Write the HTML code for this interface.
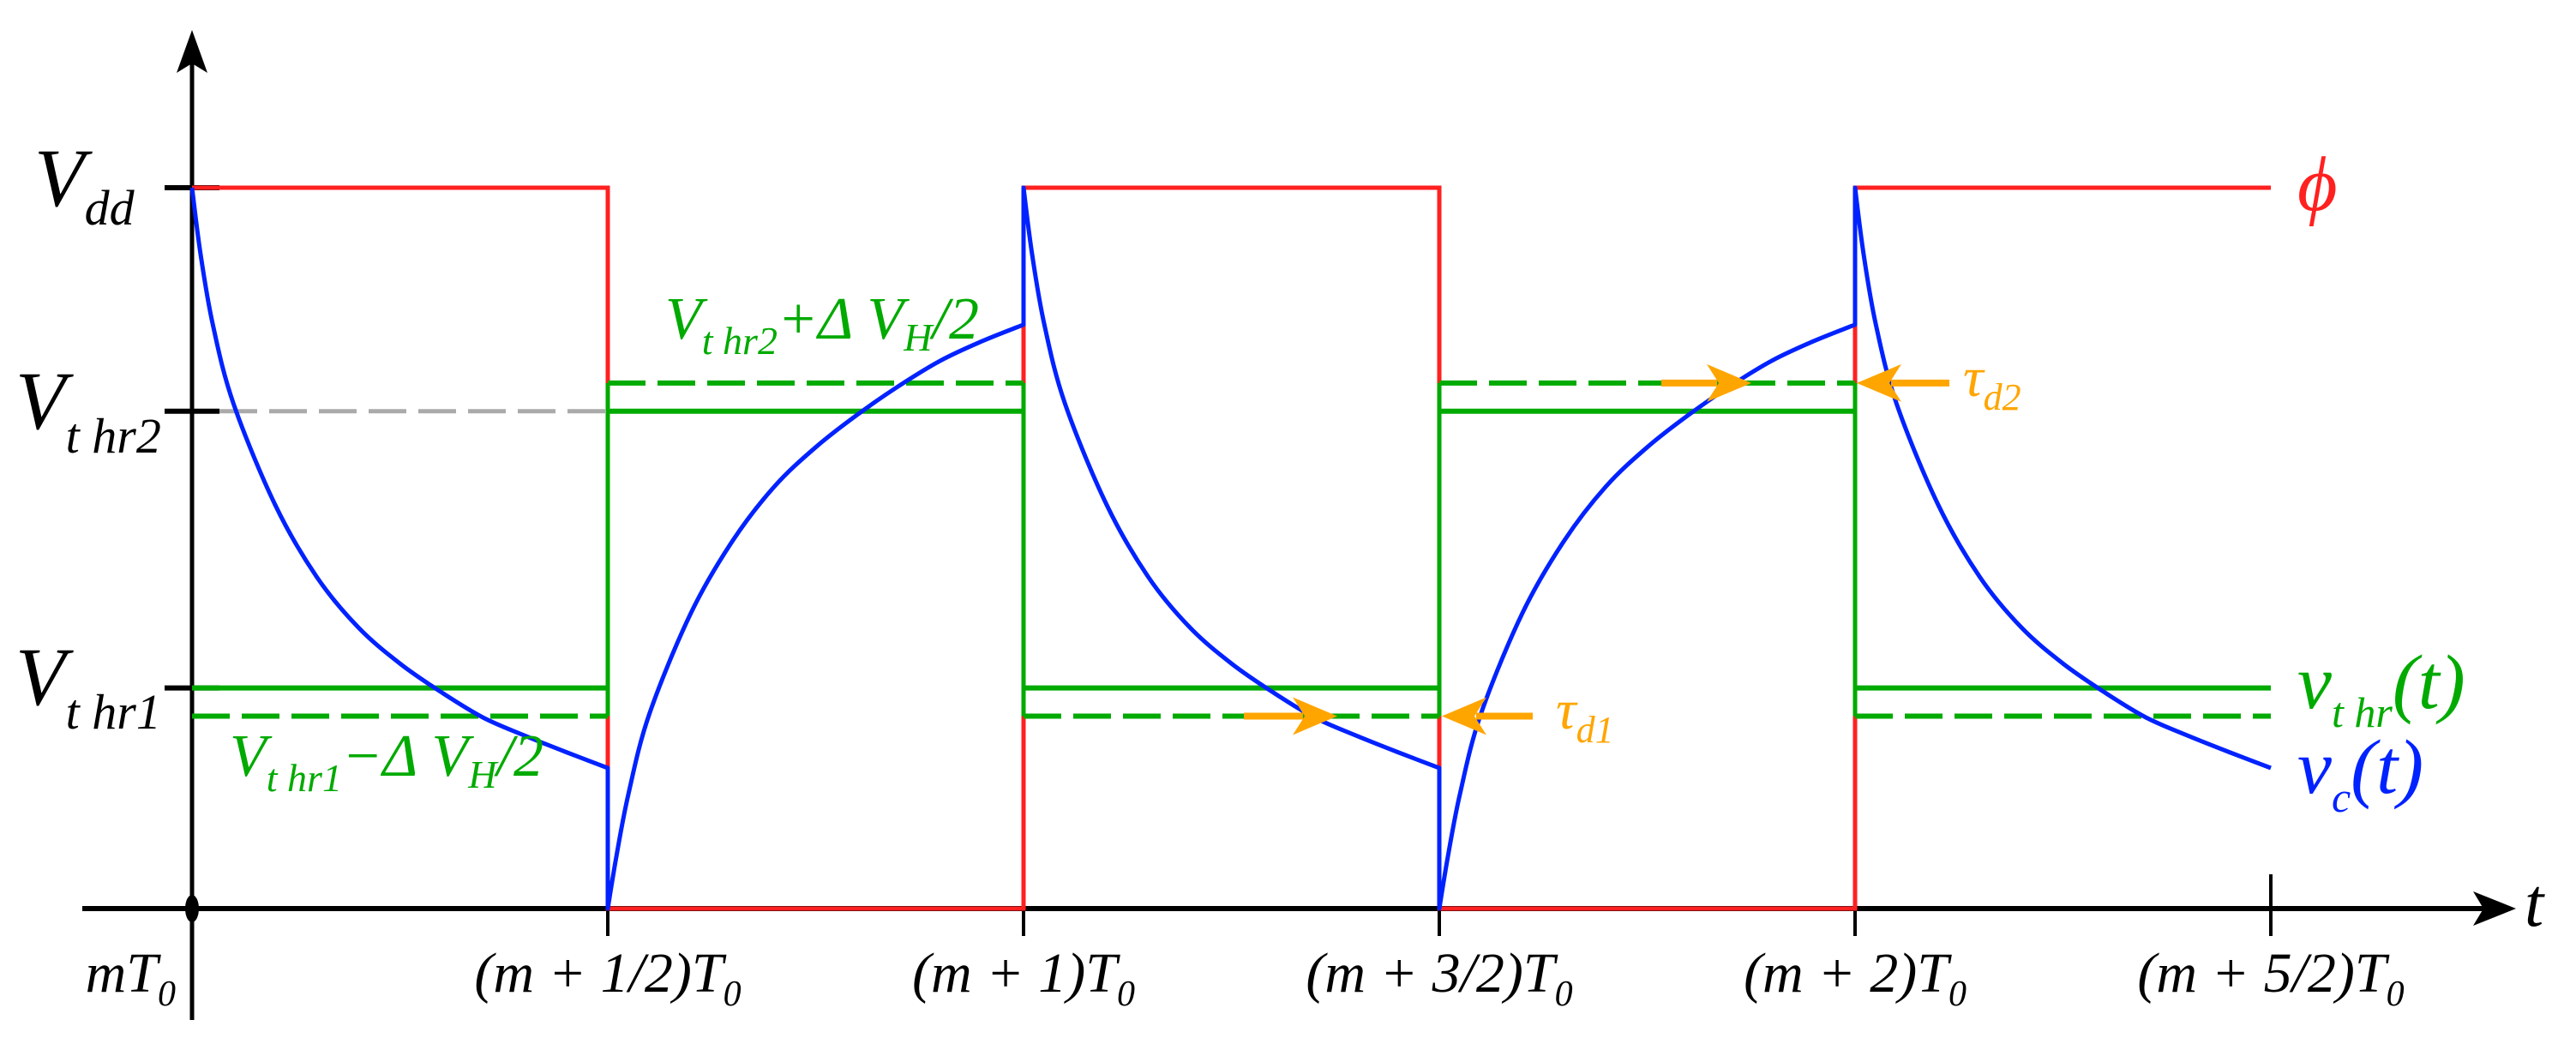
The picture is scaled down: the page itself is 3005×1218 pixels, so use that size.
<!DOCTYPE html>
<html><head><meta charset="utf-8">
<style>
html,body{margin:0;padding:0;background:#fff;}
svg{display:block;}
text{font-family:"Liberation Serif",serif;font-style:italic;}
</style></head>
<body>
<svg id="chart" width="3005" height="1218" viewBox="0 0 3005 1218" xmlns="http://www.w3.org/2000/svg">
<g id="marks"></g>
<g id="labels" font-size="64">
  <text x="40" y="240" font-size="96">V<tspan font-size="58" dy="22">dd</tspan></text>
  <text x="18" y="500" font-size="96">V<tspan font-size="58" dy="28">t hr2</tspan></text>
  <text x="18" y="822" font-size="96">V<tspan font-size="58" dy="28">t hr1</tspan></text>
  <text x="776" y="395" fill="#00aa00" font-size="70">V<tspan font-size="46" dy="18">t hr2</tspan><tspan dy="-18">+Δ V</tspan><tspan font-size="46" dy="14">H</tspan><tspan dy="-14">/2</tspan></text>
  <text x="268" y="905" fill="#00aa00" font-size="70">V<tspan font-size="46" dy="18">t hr1</tspan><tspan dy="-18">−Δ V</tspan><tspan font-size="46" dy="14">H</tspan><tspan dy="-14">/2</tspan></text>
  <text x="2680" y="245" fill="#ff2020" font-size="90">ϕ</text>
  <text x="2680" y="826" fill="#00aa00" font-size="90">v<tspan font-size="50" dy="22">t hr</tspan><tspan dy="-22">(t)</tspan></text>
  <text x="2680" y="925" fill="#0022ff" font-size="90">v<tspan font-size="50" dy="22">c</tspan><tspan dy="-22">(t)</tspan></text>
  <text x="1815" y="850" fill="#ffa500" font-size="66">τ<tspan font-size="44" dy="16">d1</tspan></text>
  <text x="2290" y="462" fill="#ffa500" font-size="66">τ<tspan font-size="44" dy="16">d2</tspan></text>
  <text x="2945" y="1080" font-size="80">t</text>
</g>
</svg>
<script>
const xTicks = [0, 0.5, 1, 1.5, 2, 2.5];
const xTickLabels = ["mT", "(m + 1/2)T", "(m + 1)T", "(m + 3/2)T", "(m + 2)T", "(m + 5/2)T"];
const phiLevels = [1, 0, 1, 0, 1];
const tSamples = [0, 0.02, 0.05, 0.1, 0.2, 0.3, 0.4, 0.5, 0.6, 0.7, 0.8, 0.9, 1.0];
const decayV = [1, 0.91, 0.81, 0.70, 0.56, 0.46, 0.39, 0.34, 0.30, 0.265, 0.24, 0.217, 0.195];
const riseV = [0, 0.07, 0.16, 0.27, 0.41, 0.51, 0.585, 0.64, 0.685, 0.725, 0.76, 0.787, 0.81];
const vthr1 = 0.306, vthr2 = 0.69, hyst = 0.039;

const X0 = 224, PX = 970, Y0 = 1060, YV = 841;
const xs = t => X0 + t * PX;
const ys = v => Y0 - v * YV;
const NS = "http://www.w3.org/2000/svg";
const g = document.getElementById('marks');
function mk(tag, attrs) {
  const e = document.createElementNS(NS, tag);
  for (const k in attrs) e.setAttribute(k, attrs[k]);
  g.appendChild(e);
  return e;
}
let e;
e = mk('line', {x1: 96, y1: Y0, x2: 2900, y2: Y0, stroke: '#000', 'stroke-width': 6});


e = mk('polygon', {points: '2935,1060 2885,1040 2897,1060 2885,1080', fill: '#000'});


e = mk('line', {x1: X0, y1: 60, x2: X0, y2: 1190, stroke: '#000', 'stroke-width': 5});


e = mk('polygon', {points: '224,35 206,85 224,74 242,85', fill: '#000'});


e = mk('ellipse', {cx: X0, cy: Y0, rx: 8, ry: 16, fill: '#000'});


[1, vthr2, vthr1].forEach(v => {
  const t = mk('line', {x1: 192, y1: ys(v), x2: 256, y2: ys(v), stroke: '#000', 'stroke-width': 6});
  
  
});
xTicks.forEach((t, i) => {
  if (i === 0) return;
  const tk = mk('line', {x1: xs(t), y1: i === 5 ? 1020 : Y0, x2: xs(t), y2: 1092, stroke: '#000', 'stroke-width': 4});
  
  
});
xTickLabels.forEach((s, i) => {
  const tx = mk('text', {x: i === 0 ? 205 : xs(xTicks[i]), y: 1157, 'text-anchor': i === 0 ? 'end' : 'middle', 'font-size': 66});
  tx.textContent = s;
  const sub = document.createElementNS(NS, 'tspan');
  sub.setAttribute('font-size', 42); sub.setAttribute('dy', 16); sub.textContent = '0';
  tx.appendChild(sub);
  
  
});
e = mk('line', {x1: 256, y1: ys(vthr2), x2: xs(0.5), y2: ys(vthr2), stroke: '#aaa', 'stroke-width': 5, 'stroke-dasharray': '44 14'});


let d = '';
phiLevels.forEach((lv, i) => {
  const a = xs(i * 0.5), b = xs((i + 1) * 0.5);
  d += (i === 0 ? 'M' : 'L') + a + ',' + ys(lv) + ' L' + b + ',' + ys(lv) + ' ';
  if (i < phiLevels.length - 1) d += 'L' + b + ',' + ys(phiLevels[i + 1]) + ' ';
});
e = mk('path', {d: d, fill: 'none', stroke: '#ff2020', 'stroke-width': 5});


phiLevels.forEach((lv, i) => {
  const a = xs(i * 0.5), b = xs((i + 1) * 0.5);
  const v = lv === 1 ? vthr1 : vthr2;
  const vd = lv === 1 ? vthr1 - hyst : vthr2 + hyst;
  const s = mk('line', {x1: a, y1: ys(v), x2: b, y2: ys(v), stroke: '#00aa00', 'stroke-width': 6});
  
  
  const dl = mk('line', {x1: a, y1: ys(vd), x2: b, y2: ys(vd), stroke: '#00aa00', 'stroke-width': 6, 'stroke-dasharray': '44 14'});
  
  
  if (i < phiLevels.length - 1) {
    const vl = mk('line', {x1: b, y1: ys(vthr2 + hyst), x2: b, y2: ys(vthr1 - hyst), stroke: '#00aa00', 'stroke-width': 5});
    
    
  }
});
let pd = '';
phiLevels.forEach((lv, i) => {
  const arr = lv === 1 ? decayV : riseV;
  const pts = tSamples.map((t, j) => [xs(i * 0.5 + t * 0.5), ys(arr[j])]);
  pd += (i === 0 ? 'M' : 'L') + pts[0][0].toFixed(1) + ',' + pts[0][1].toFixed(1) + ' ';
  for (let j = 0; j < pts.length - 1; j++) {
    const p0 = pts[Math.max(0, j - 1)], p1 = pts[j], p2 = pts[j + 1], p3 = pts[Math.min(pts.length - 1, j + 2)];
    const c1 = [p1[0] + (p2[0] - p0[0]) / 6, p1[1] + (p2[1] - p0[1]) / 6];
    const c2 = [p2[0] - (p3[0] - p1[0]) / 6, p2[1] - (p3[1] - p1[1]) / 6];
    pd += 'C' + c1[0].toFixed(1) + ',' + c1[1].toFixed(1) + ' ' + c2[0].toFixed(1) + ',' + c2[1].toFixed(1) + ' ' + p2[0].toFixed(1) + ',' + p2[1].toFixed(1) + ' ';
  }
});
e = mk('path', {d: pd, fill: 'none', stroke: '#0022ff', 'stroke-width': 5, 'stroke-linejoin': 'round'});


function arrow(x1, x2, y, name) {
  const dir = Math.sign(x2 - x1);
  const l = mk('line', {x1: x1, y1: y, x2: x2 - dir * 40, y2: y, stroke: '#ffa500', 'stroke-width': 8});
  
  
  const h = mk('polygon', {points: `${x2},${y} ${x2 - dir * 52},${y - 22} ${x2 - dir * 38},${y} ${x2 - dir * 52},${y + 22}`, fill: '#ffa500'});
  
  
}
arrow(1451, 1560, ys(vthr1 - hyst), 'tau-d1-right-arrow');
arrow(1788, 1682, ys(vthr1 - hyst), 'tau-d1-left-arrow');
arrow(1938, 2043, ys(vthr2 + hyst), 'tau-d2-right-arrow');
arrow(2274, 2166, ys(vthr2 + hyst), 'tau-d2-left-arrow');
</script>
</body></html>
